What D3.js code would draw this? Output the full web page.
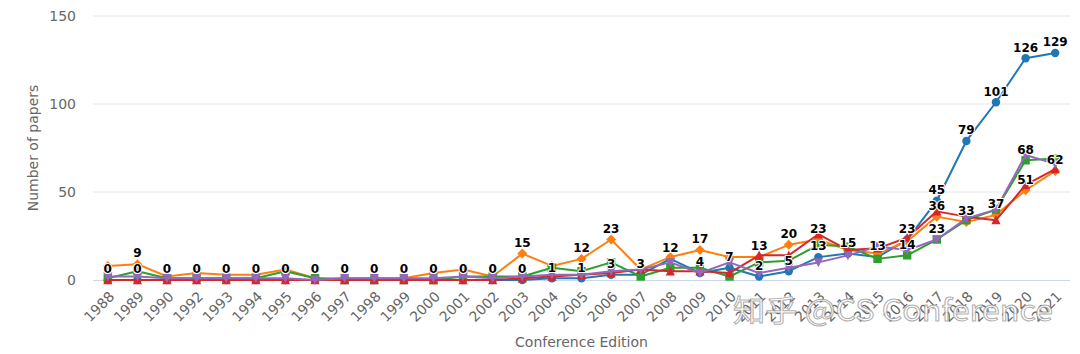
<!DOCTYPE html>
<html>
<head>
<meta charset="utf-8">
<script src="https://cdn.jsdelivr.net/npm/d3@7/dist/d3.min.js"></script>
<style>
  html, body { margin: 0; padding: 0; background: #ffffff; }
  svg { display: block; }
</style>
</head>
<body>
<svg id="chart" width="1080" height="354"></svg>
<script>
// ---------- DATA ----------
const categories = ["1988","1989","1990","1992","1993","1994","1995","1996","1997","1998","1999",
  "2000","2001","2002","2003","2004","2005","2006","2007","2008","2009","2010","2011","2012",
  "2013","2014","2015","2016","2017","2018","2019","2020","2021"];

const seriesBlue   = [0,0,0,0,0,0,0,0,0,0,0, 0,0,0,0,1,1,3,3,12,4,7,2,5, 13,15,13,23,45,79,101,126,129];
const seriesOrange = [8,9,2,4,3,3,6,1,1,1,1, 4,6,2,15,8,12,23,6,13,17,13,13,20, 23,17,15,22,36,33,37,51,62];
const seriesGreen  = [1,5,1,1,1,1,5,1,0,0,0, 0,2,2,2,7,5,10,2,7,7,2,10,11, 20,19,12,14,23,34,40,68,69];
const seriesRed    = [0,0,0,0,0,0,0,0,0,0,0, 0,0,0,1,2,3,4,6,5,5,4,14,14, 26,17,18,24,39,36,34,54,63];
const seriesPurple = [2,2,1,1,1,1,1,0,1,1,1, 1,2,1,2,3,3,5,6,10,4,10,4,7, 10,14,19,17,23,35,40,71,66];

const yTicks = [0, 50, 100, 150];
const seriesColors  = ["#1f77b4", "#ff7f0e", "#2ca02c", "#d62728", "#9467bd"];
const seriesSymbols = ["circle", "diamond", "square", "triangle", "triangle-down"];
const yTitle = "Number of papers";
const xTitle = "Conference Edition";
const watermark = "知乎 @CS Conference";

const allSeries = [seriesBlue, seriesOrange, seriesGreen, seriesRed, seriesPurple];

// ---------- LAYOUT ----------
const svg = d3.select("#chart");
const plot = { left: 93, right: 1070, top: 16, bottom: 280 };

const x = d3.scaleBand().domain(categories).range([plot.left, plot.right]).padding(0);
const xc = d => x(d) + x.bandwidth() / 2;
const y = d3.scaleLinear().domain([0, 150]).range([plot.bottom, plot.top]);

// gridlines
svg.append("g").selectAll("line").data(yTicks.filter(t => t > 0)).join("line")
  .attr("x1", plot.left).attr("x2", plot.right)
  .attr("y1", d => y(d)).attr("y2", d => y(d))
  .attr("stroke", "#e6e6e6").attr("stroke-width", 1);

// x axis baseline
svg.append("line")
  .attr("x1", plot.left).attr("x2", plot.right)
  .attr("y1", y(0) + 0.5).attr("y2", y(0) + 0.5)
  .attr("stroke", "#ccd6eb").attr("stroke-width", 1);

// y axis labels
const yAxis = d3.axisLeft(y).tickValues(yTicks).tickSize(0).tickPadding(0);
const gy = svg.append("g").attr("transform", `translate(76,0)`).call(yAxis);
gy.select(".domain").remove();
gy.selectAll("text")
  .attr("font-family", "DejaVu Sans, sans-serif").attr("font-size", 14)
  .attr("fill", "#666666").attr("x", 0).attr("dy", "0.35em");

// x axis labels (rotated)
const xAxis = d3.axisBottom(x).tickSize(0).tickPadding(0);
const gx = svg.append("g").attr("transform", `translate(0,${plot.bottom})`).call(xAxis);
gx.select(".domain").remove();
gx.selectAll(".tick text")
  .attr("font-family", "DejaVu Sans, sans-serif").attr("font-size", 14)
  .attr("fill", "#666666")
  .attr("text-anchor", "end")
  .attr("dy", "0.35em")
  .attr("y", 0)
  .attr("transform", "translate(4,14) rotate(-45)");

// axis titles
svg.append("text")
  .attr("transform", `translate(38,${(plot.top + plot.bottom) / 2}) rotate(-90)`)
  .attr("text-anchor", "middle")
  .attr("font-family", "DejaVu Sans, sans-serif").attr("font-size", 14)
  .attr("fill", "#666666").text(yTitle);

svg.append("text")
  .attr("x", (plot.left + plot.right) / 2).attr("y", 347)
  .attr("text-anchor", "middle")
  .attr("font-family", "DejaVu Sans, sans-serif").attr("font-size", 14)
  .attr("fill", "#666666").text(xTitle);

// ---------- SERIES ----------
const symbolPath = (name) => {
  const r = 4.2;
  switch (name) {
    case "circle": return d3.symbol(d3.symbolCircle, Math.PI * r * r)();
    case "square": return `M${-r},${-r}H${r}V${r}H${-r}Z`;
    case "diamond": return `M0,${-r - 0.8}L${r + 0.8},0L0,${r + 0.8}L${-r - 0.8},0Z`;
    case "triangle": return `M0,${-r - 0.6}L${r + 0.4},${r}L${-r - 0.4},${r}Z`;
    case "triangle-down": return `M${-r - 0.4},${-r}L${r + 0.4},${-r}L0,${r + 0.6}Z`;
  }
};

const line = d3.line().x((d, i) => xc(categories[i])).y(d => y(d));

allSeries.forEach((vals, si) => {
  const g = svg.append("g");
  g.append("path").datum(vals)
    .attr("d", line)
    .attr("fill", "none")
    .attr("stroke", seriesColors[si])
    .attr("stroke-width", 2)
    .attr("stroke-linejoin", "round");
  g.selectAll("path.mk").data(vals).join("path")
    .attr("class", "mk")
    .attr("d", symbolPath(seriesSymbols[si]))
    .attr("transform", (d, i) => `translate(${xc(categories[i])},${y(d)})`)
    .attr("fill", seriesColors[si]);
});

// ---------- DATA LABELS (hide overlapping, earlier series win) ----------
const labelLayer = svg.append("g");
const kept = [];
const boxH = 15;
allSeries.forEach((vals, si) => {
  vals.forEach((v, i) => {
    const cx = xc(categories[i]);
    const cy = y(v) - 11;
    const t = labelLayer.append("text")
      .attr("x", cx).attr("y", cy).attr("dy", "0.36em")
      .attr("text-anchor", "middle")
      .attr("font-family", "DejaVu Sans, sans-serif")
      .attr("font-weight", "bold").attr("font-size", 12)
      .attr("fill", "#000000")
      .attr("stroke", "#ffffff").attr("stroke-width", 2)
      .attr("stroke-linejoin", "round")
      .attr("paint-order", "stroke")
      .text(v);
    const w = t.node().getComputedTextLength();
    const box = { x0: cx - w / 2, x1: cx + w / 2, y0: cy - boxH / 2, y1: cy + boxH / 2 };
    const hit = kept.some(b => box.x0 < b.x1 && box.x1 > b.x0 && box.y0 < b.y1 && box.y1 > b.y0);
    if (hit) t.remove(); else kept.push(box);
  });
});

// ---------- WATERMARK ----------
svg.append("text")
  .attr("x", 733).attr("y", 321)
  .attr("font-family", "Noto Sans CJK SC, sans-serif")
  .attr("font-size", 30)
  .attr("textLength", 320)
  .attr("lengthAdjust", "spacingAndGlyphs")
  .attr("fill", "#ffffff").attr("fill-opacity", 0.85)
  .attr("stroke", "#8a8a8a").attr("stroke-width", 1).attr("stroke-opacity", 0.7)
  .text(watermark);
</script>
</body>
</html>
